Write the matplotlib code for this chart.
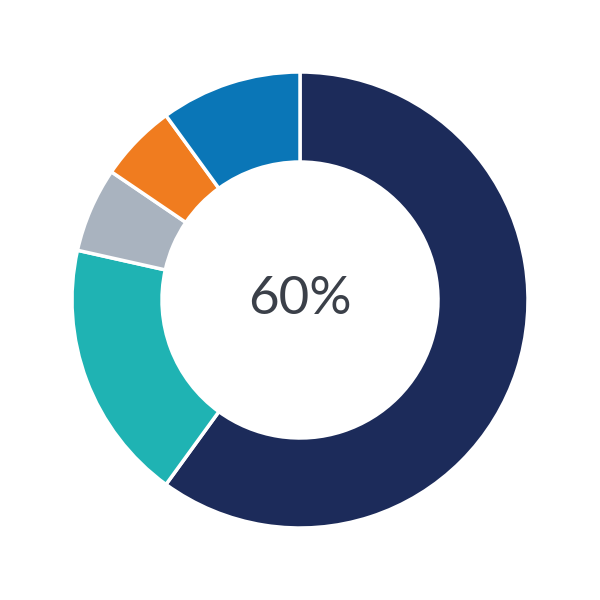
import matplotlib
matplotlib.use("Agg")
import matplotlib.pyplot as plt

categories = ["A", "B", "C", "D", "E"]
values = [60, 18.5, 6, 5.5, 10]
colors = ["#1c2b5a", "#1fb3b3", "#a9b3bf", "#f07c1f", "#0a76b7"]
center_label = "60%"

fig = plt.figure(figsize=(6, 6), dpi=100)
ax = fig.add_axes([0, 0, 1, 1])
ax.pie(values, colors=colors, startangle=90, counterclock=False,
       radius=228 / 300,
       wedgeprops=dict(width=90 / 300, edgecolor="white", linewidth=2.5))
ax.set_xlim(-1, 1)
ax.set_ylim(-1, 1)
ax.set_aspect("equal")
ax.axis("off")
ax.text(0, 0, center_label, ha="center", va="center", fontsize=38,
        family="Lato", fontweight="normal", color="#3b4049")
fig.savefig("out.png", dpi=100, facecolor="white")
